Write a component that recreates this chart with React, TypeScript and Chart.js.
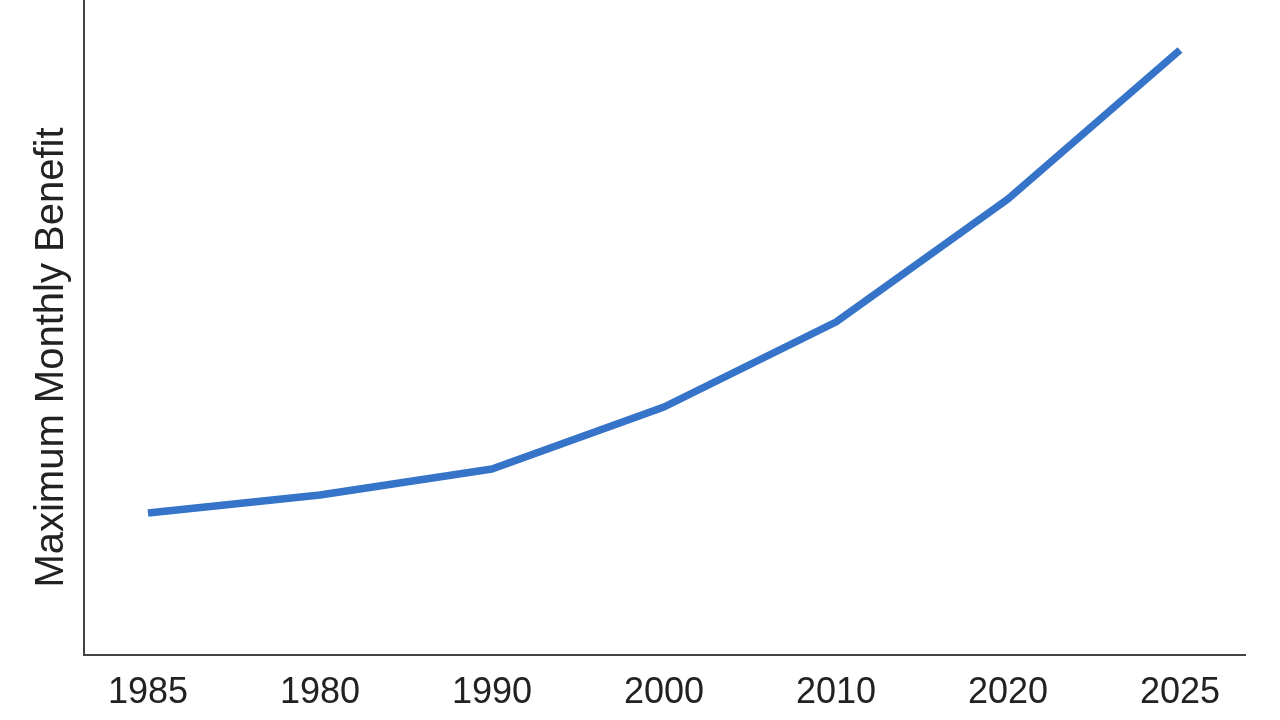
import React, { useEffect, useRef } from "react"
import Chart from "chart.js/auto"

// 横軸のラベル（画像のとおりの並び）
const years = ["1985", "1980", "1990", "2000", "2010", "2020", "2025"]
// 最大月額給付（目盛りなしのため相対値で読み取り）
const benefits = [1420, 1600, 1860, 2480, 3330, 4560, 6050]
const yMax = 6550

export default function App() {
  const canvasRef = useRef<HTMLCanvasElement>(null)
  const chartRef = useRef<Chart | null>(null)

  useEffect(() => {
    if (!canvasRef.current) return
    const ctx = canvasRef.current.getContext("2d")
    if (!ctx) return

    chartRef.current?.destroy()

    chartRef.current = new Chart(ctx, {
      type: "line",
      data: {
        datasets: [
          {
            label: "Maximum Monthly Benefit",
            data: benefits.map((v, i) => ({ x: i, y: v })),
            borderColor: "#3574c8",
            borderWidth: 7.5,
            borderCapStyle: "butt",
            borderJoinStyle: "round",
            pointRadius: 0,
            tension: 0,
            fill: false,
          },
        ],
      },
      options: {
        animation: false,
        responsive: true,
        maintainAspectRatio: false,
        layout: { padding: { left: 0, right: 35, top: 0, bottom: 0 } },
        plugins: {
          legend: { display: false },
          tooltip: { enabled: false },
        },
        scales: {
          x: {
            type: "linear",
            min: -0.372,
            max: 6.378,
            grid: { display: false },
            border: { display: true, color: "#444", width: 2 },
            afterBuildTicks: (scale) => {
              scale.ticks = years.map((_, i) => ({ value: i }))
            },
            afterFit: (scale) => {
              scale.height = 65
            },
            ticks: {
              autoSkip: false,
              maxRotation: 0,
              padding: 8,
              color: "#222",
              font: { family: "'Liberation Sans', Arial, sans-serif", size: 36 },
              callback: (value) => years[Number(value)] ?? "",
            },
          },
          y: {
            min: 0,
            max: yMax,
            grid: { display: false },
            border: { display: true, color: "#444", width: 2 },
            ticks: { display: false },
            afterFit: (scale) => {
              scale.width = 84
            },
            title: {
              display: true,
              // 末尾の空白でタイトルを少し下へずらす
              text: "Maximum Monthly Benefit\u2003\u2002",
              color: "#222",
              padding: { top: 28, bottom: 0 },
              font: { family: "'Liberation Sans', Arial, sans-serif", size: 40 },
            },
          },
        },
      },
    })

    return () => {
      chartRef.current?.destroy()
      chartRef.current = null
    }
  }, [])

  return (
    <div style={{ position: "fixed", left: 0, top: 0, width: 1280, height: 720, background: "#fff" }}>
      <canvas ref={canvasRef} />
    </div>
  )
}
